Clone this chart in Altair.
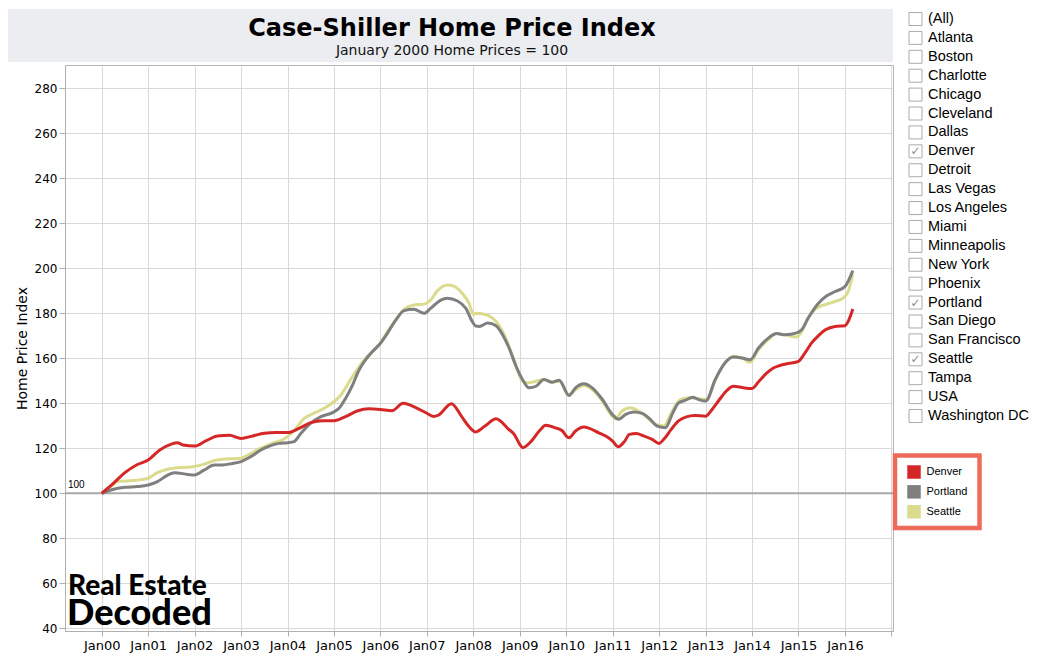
import altair as alt
import pandas as pd

# ---------------- data ----------------
cities = ["Denver", "Portland", "Seattle"]
city_colors = ["#D62728", "#7F7F7F", "#DBDB8D"]

denver_t = [2000.0, 2000.25, 2000.5, 2000.75, 2001.0, 2001.25, 2001.5, 2001.63, 2001.75, 2002.0,
            2002.25, 2002.49, 2002.75, 2003.0, 2003.25, 2003.5, 2003.75, 2004.0, 2004.25, 2004.5,
            2004.75, 2005.0, 2005.25, 2005.5, 2005.75, 2006.0, 2006.25, 2006.49, 2006.75, 2007.0,
            2007.14, 2007.25, 2007.53, 2007.75, 2007.91, 2008.05, 2008.25, 2008.49, 2008.75, 2008.88,
            2009.0, 2009.06, 2009.25, 2009.42, 2009.56, 2009.75, 2009.92, 2010.0, 2010.06, 2010.2,
            2010.38, 2010.5, 2010.7, 2010.91, 2011.0, 2011.12, 2011.26, 2011.36, 2011.51, 2011.67,
            2011.85, 2012.0, 2012.1, 2012.26, 2012.41, 2012.57, 2012.77, 2013.0, 2013.14, 2013.3,
            2013.46, 2013.6, 2013.82, 2014.0, 2014.15, 2014.32, 2014.46, 2014.6, 2014.78, 2015.0,
            2015.14, 2015.28, 2015.43, 2015.58, 2015.79, 2016.0, 2016.07, 2016.17]
denver_v = [100.0, 104.4, 109.2, 112.6, 114.8, 119.3, 121.9, 122.5, 121.5, 121.0,
            123.4, 125.5, 125.8, 124.4, 125.5, 126.7, 127.0, 127.0, 128.9, 131.4,
            132.3, 132.3, 134.1, 136.6, 137.6, 137.3, 136.7, 140.0, 138.2, 135.6,
            134.2, 134.8, 139.8, 134.1, 129.6, 127.3, 129.9, 133.1, 128.7, 126.2,
            121.8, 120.3, 123.2, 127.7, 130.3, 129.2, 127.7, 125.5, 124.7, 127.7,
            129.5, 128.9, 126.9, 124.7, 123.2, 120.7, 123.2, 126.2, 126.6, 125.5,
            124.0, 122.2, 124.0, 128.4, 132.1, 133.9, 134.6, 134.3, 137.3, 141.7,
            145.8, 147.6, 146.9, 146.6, 149.8, 153.5, 155.7, 156.8, 157.7, 158.7,
            162.4, 166.8, 170.1, 172.7, 174.2, 174.5, 176.4, 181.9]

seattle_t = [2000.0, 2000.2, 2000.34, 2000.6, 2000.9, 2001.0, 2001.2, 2001.42, 2001.63, 2001.85,
             2002.0, 2002.21, 2002.41, 2002.6, 2002.82, 2003.0, 2003.15, 2003.35, 2003.5, 2003.71,
             2003.86, 2004.0, 2004.16, 2004.36, 2004.57, 2004.79, 2005.0, 2005.15, 2005.33, 2005.47,
             2005.65, 2005.86, 2006.0, 2006.15, 2006.33, 2006.51, 2006.72, 2006.94, 2007.08, 2007.23,
             2007.44, 2007.58, 2007.76, 2007.91, 2008.0, 2008.06, 2008.2, 2008.34, 2008.49, 2008.63,
             2008.77, 2008.92, 2009.06, 2009.17, 2009.35, 2009.52, 2009.7, 2009.85, 2010.06, 2010.2,
             2010.38, 2010.56, 2010.78, 2010.99, 2011.06, 2011.2, 2011.38, 2011.56, 2011.78, 2011.92,
             2012.1, 2012.28, 2012.46, 2012.64, 2012.85, 2013.03, 2013.21, 2013.42, 2013.6, 2013.78,
             2013.96, 2014.14, 2014.35, 2014.53, 2014.71, 2014.96, 2015.07, 2015.21, 2015.36, 2015.5,
             2015.64, 2015.79, 2015.96, 2016.07, 2016.17]
seattle_v = [100.0, 103.0, 105.2, 105.6, 106.2, 106.7, 109.2, 110.7, 111.4, 111.6,
             111.9, 113.0, 114.5, 115.1, 115.4, 115.6, 117.0, 119.3, 120.7, 122.5,
             123.4, 125.2, 128.4, 133.3, 135.6, 137.8, 140.7, 143.7, 149.6, 154.1,
             159.3, 163.7, 166.7, 171.9, 177.0, 181.8, 183.7, 184.1, 185.9, 190.1,
             192.6, 192.1, 188.9, 184.4, 179.5, 180.1, 179.8, 178.9, 176.4, 172.0,
             165.3, 156.5, 149.8, 149.1, 149.8, 150.6, 149.4, 149.8, 143.9, 146.1,
             147.9, 146.1, 141.0, 134.3, 133.1, 136.5, 138.0, 136.5, 132.9, 130.6,
             129.9, 136.5, 141.7, 142.5, 142.0, 141.7, 150.6, 158.0, 160.9, 160.2,
             158.3, 163.9, 168.3, 171.0, 170.5, 169.5, 172.0, 177.9, 181.9, 183.4,
             184.3, 185.3, 186.8, 189.7, 197.5]

portland_t = [2000.0, 2000.2, 2000.5, 2000.77, 2001.0, 2001.2, 2001.42, 2001.56, 2001.85, 2001.99,
              2002.21, 2002.42, 2002.6, 2002.82, 2003.0, 2003.21, 2003.43, 2003.61, 2003.82, 2004.0,
              2004.14, 2004.29, 2004.47, 2004.72, 2004.97, 2005.11, 2005.25, 2005.4, 2005.54, 2005.65,
              2005.83, 2006.0, 2006.15, 2006.33, 2006.51, 2006.72, 2006.94, 2007.08, 2007.3, 2007.44,
              2007.66, 2007.84, 2007.98, 2008.05, 2008.13, 2008.31, 2008.49, 2008.63, 2008.77, 2008.92,
              2009.06, 2009.2, 2009.35, 2009.52, 2009.7, 2009.85, 2010.06, 2010.2, 2010.38, 2010.56,
              2010.78, 2010.99, 2011.13, 2011.28, 2011.46, 2011.64, 2011.81, 2011.96, 2012.14, 2012.28,
              2012.42, 2012.57, 2012.72, 2012.85, 2013.0, 2013.21, 2013.42, 2013.6, 2013.78, 2013.96,
              2014.14, 2014.35, 2014.53, 2014.71, 2014.96, 2015.07, 2015.21, 2015.43, 2015.61, 2015.79,
              2016.0, 2016.17]
portland_v = [100.0, 101.5, 102.7, 103.0, 103.7, 105.2, 108.1, 109.2, 108.4, 108.1,
              110.4, 112.6, 112.6, 113.3, 114.1, 116.3, 119.3, 121.0, 122.2, 122.5,
              123.0, 126.7, 130.7, 134.1, 135.9, 137.8, 142.2, 148.1, 154.8, 158.5,
              163.0, 166.7, 171.1, 177.0, 181.2, 181.8, 180.0, 182.2, 185.9, 186.7,
              185.5, 182.2, 176.3, 174.4, 174.2, 175.7, 174.5, 170.5, 164.6, 156.5,
              150.6, 146.9, 147.6, 150.6, 149.4, 150.3, 143.5, 146.9, 148.7, 146.9,
              141.7, 135.1, 132.9, 135.1, 136.2, 135.5, 132.9, 129.9, 129.2, 135.1,
              140.2, 141.4, 142.7, 141.7, 141.0, 150.6, 158.0, 160.6, 160.2, 159.4,
              164.6, 169.0, 171.0, 170.5, 171.3, 172.7, 177.9, 184.5, 187.8, 189.7,
              191.9, 199.0]

check_names = ["(All)", "Atlanta", "Boston", "Charlotte", "Chicago", "Cleveland", "Dallas",
               "Denver", "Detroit", "Las Vegas", "Los Angeles", "Miami", "Minneapolis",
               "New York", "Phoenix", "Portland", "San Diego", "San Francisco", "Seattle",
               "Tampa", "USA", "Washington DC"]
checked = ["Denver", "Portland", "Seattle"]

x_ticks = list(range(2000, 2018))
y_ticks = list(range(40, 281, 20))

title_text = "Case-Shiller Home Price Index"
subtitle_text = "January 2000 Home Prices = 100"
logo_line1 = "Real Estate"
logo_line2 = "Decoded"
ref_value = [100]

# ---------------- build tables ----------------
rows = []
for city, ts, vs in [("Seattle", seattle_t, seattle_v),
                     ("Portland", portland_t, portland_v),
                     ("Denver", denver_t, denver_v)]:
    for t, v in zip(ts, vs):
        rows.append({"city": city, "t": t, "v": v})
df = pd.DataFrame(rows)

cl = pd.DataFrame({"name": check_names,
                   "mark": ["\u2713" if n in checked else "" for n in check_names]})
leg = pd.DataFrame({"city": cities})

W, H = 828, 566
xscale = alt.Scale(domain=[1999.21, 2017.035], nice=False, zero=False)
yscale = alt.Scale(domain=[38.8, 290.4], nice=False, zero=False)
cscale = alt.Scale(domain=cities, range=city_colors)

one = pd.DataFrame({"a": [1]})

band = alt.Chart(one).mark_rect(color="#EBEDF0").encode(
    x=alt.value(-57), x2=alt.value(828), y=alt.value(-56), y2=alt.value(-3))

title = alt.Chart(pd.DataFrame({"t": [title_text]})).mark_text(
    font="DejaVu Sans", fontWeight="bold", fontSize=24, color="#000",
    align="center", baseline="alphabetic").encode(
    x=alt.value(387), y=alt.value(-29), text="t:N")

subtitle = alt.Chart(pd.DataFrame({"t": [subtitle_text]})).mark_text(
    font="DejaVu Sans", fontSize=14, color="#111",
    align="center", baseline="alphabetic").encode(
    x=alt.value(387), y=alt.value(-10), text="t:N")

ref = alt.Chart(pd.DataFrame({"v": ref_value})).mark_rule(color="#A8A8A8", strokeWidth=2).encode(
    y=alt.Y("v:Q", scale=yscale, axis=None))

ref_label = alt.Chart(pd.DataFrame({"v": ref_value})).mark_text(
    font="Liberation Sans", fontSize=10, color="#000", align="left", baseline="bottom", dy=-3).encode(
    x=alt.value(3), y=alt.Y("v:Q", scale=yscale, axis=None), text=alt.Text("v:Q"))

lines = alt.Chart(df).mark_line(strokeWidth=3, interpolate="monotone").encode(
    x=alt.X("t:Q", scale=xscale,
            axis=alt.Axis(values=x_ticks, title=None, grid=True, gridColor="#D9D9D9",
                          domainColor="#B0B0B0", tickColor="#B0B0B0", tickSize=5,
                          labelExpr="datum.value < 2017 ? 'Jan' + slice(toString(datum.value), 2) : ''",
                          labelFont="DejaVu Sans", labelFontSize=13, labelColor="#000",
                          labelPadding=3, labelFlush=False, labelOverlap=False)),
    y=alt.Y("v:Q", scale=yscale,
            axis=alt.Axis(values=y_ticks, title="Home Price Index", grid=True, gridColor="#D9D9D9",
                          domainColor="#B0B0B0", tickColor="#B0B0B0", tickSize=6,
                          labelFont="DejaVu Sans", labelFontSize=12, labelColor="#000",
                          labelPadding=2, labelFlush=False,
                          titleFont="DejaVu Sans", titleFontSize=14, titleFontWeight="normal",
                          titleColor="#000", titleX=-43, titleBaseline="middle")),
    color=alt.Color("city:N", scale=cscale, legend=None),
)

# legend built from the colour scale
leg_y = alt.Y("city:N", scale=alt.Scale(type="point", domain=cities, range=[407, 446.7], padding=0),
              axis=None)
leg_sw = alt.Chart(leg).mark_square(size=182, filled=True, opacity=1).encode(
    x=alt.value(849), y=leg_y, color=alt.Color("city:N", scale=cscale, legend=None))
leg_tx = alt.Chart(leg).mark_text(font="Liberation Sans", fontSize=11, color="#000",
                                  align="left", baseline="middle").encode(
    x=alt.value(861.5), y=leg_y, text="city:N")
legend_box = alt.Chart(one).mark_rect(filled=False, stroke="#EE6A5A", strokeWidth=4.5).encode(
    x=alt.value(830), x2=alt.value(914.5), y=alt.value(390.5), y2=alt.value(463))

logo1 = alt.Chart(pd.DataFrame({"t": [logo_line1]})).mark_text(
    font="Lato", fontWeight=900, fontSize=28, color="#000", align="left", baseline="alphabetic").encode(
    x=alt.value(3), y=alt.value(530), text="t:N")
logo2 = alt.Chart(pd.DataFrame({"t": [logo_line2]})).mark_text(
    font="Lato", fontWeight=900, fontSize=36, color="#000", align="left", baseline="alphabetic").encode(
    x=alt.value(2), y=alt.value(560), text="t:N")

cl_y = alt.Y("name:N", scale=alt.Scale(type="point", domain=check_names, range=[-46, 351], padding=0),
             axis=None)
boxes = alt.Chart(cl).mark_square(size=169, filled=True, color="white", stroke="#ABABAB",
                                  strokeWidth=1, opacity=1).encode(x=alt.value(850.5), y=cl_y)
ticks = alt.Chart(cl).mark_text(font="DejaVu Sans", fontSize=12, color="#8A8A8A",
                                align="center", baseline="middle").encode(
    x=alt.value(850.5), y=cl_y, text="mark:N")
names = alt.Chart(cl).mark_text(font="Liberation Sans", fontSize=14.5, color="#000",
                                align="left", baseline="middle").encode(
    x=alt.value(863), y=cl_y, text="name:N")

chart = alt.layer(band, title, subtitle, ref, lines, ref_label, legend_box, leg_sw, leg_tx,
                  logo1, logo2, boxes, ticks, names).resolve_scale(
    y="independent").properties(
    width=W, height=H, autosize=alt.AutoSizeParams(type="none"),
    padding={"left": 57, "top": 57, "right": 140, "bottom": 22}
).configure_view(stroke="#B5B5B5", strokeWidth=1)

chart.save("out.html", embed_options={"renderer": "svg", "actions": False})
